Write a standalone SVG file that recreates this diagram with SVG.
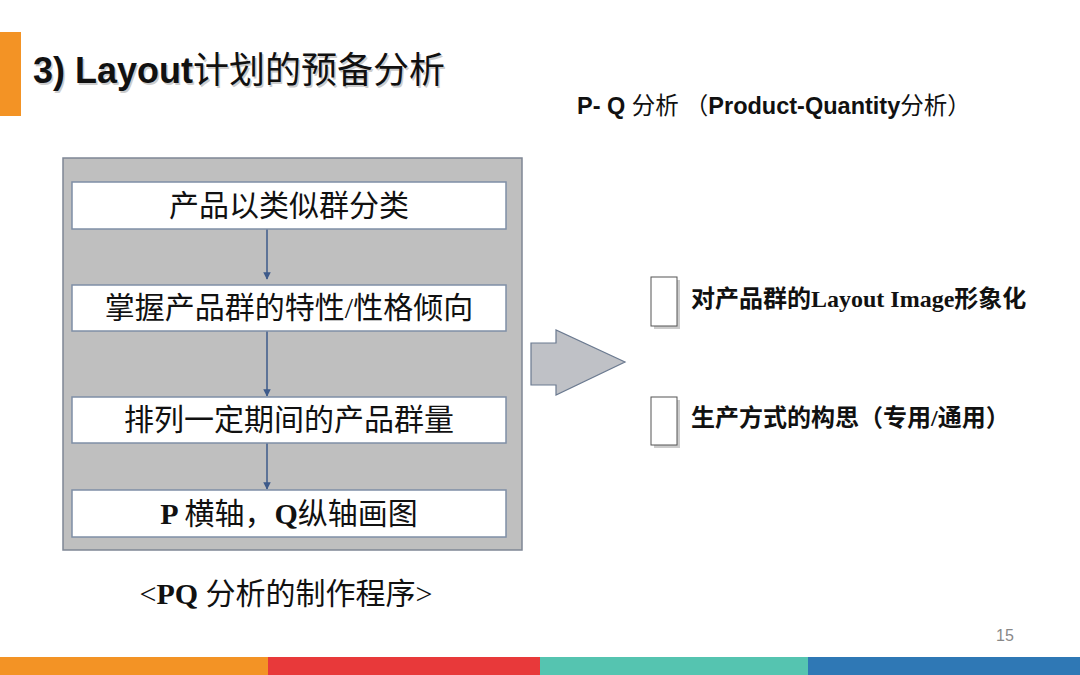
<svg xmlns="http://www.w3.org/2000/svg" width="1080" height="675" viewBox="0 0 1080 675">
<style>
.step{fill:#fff;stroke:#7f8fa6;stroke-width:1.5}
.st{font-family:"Liberation Serif","Noto Sans CJK SC",serif;font-size:30px;fill:#111;text-anchor:middle}
.conn{stroke:#3d5a8a;stroke-width:1.5;fill:none}
.rt{font-family:"Liberation Serif","Noto Sans CJK SC",serif;font-size:24px;font-weight:bold;fill:#111}
.chk{fill:#fff;stroke:#555;stroke-width:1}
.shd{fill:#ccc}
</style>
<defs>
<marker id="ah" viewBox="0 0 10 10" refX="9" refY="5" markerWidth="5" markerHeight="5" orient="auto">
<path d="M0,0 L10,5 L0,10 z" fill="#3d5a8a"/>
</marker>
</defs>
<rect width="1080" height="675" fill="#fff"/>
<rect x="0" y="32" width="21" height="84" fill="#f39325"/>
<text x="33" y="83" font-family="Liberation Sans,Noto Sans CJK SC,sans-serif" font-size="36" fill="#ccc" font-weight="bold" transform="translate(1.5,1.5)">3) Layout<tspan font-weight="normal">计划的预备分析</tspan></text>
<text x="33" y="83" font-family="Liberation Sans,Noto Sans CJK SC,sans-serif" font-size="36" fill="#111" font-weight="bold">3) Layout<tspan font-weight="normal">计划的预备分析</tspan></text>
<text x="577" y="114" font-family="Liberation Sans,Noto Sans CJK SC,sans-serif" font-size="23.5" fill="#111" font-weight="bold">P- Q <tspan font-weight="normal">分析</tspan><tspan font-weight="normal" dx="6">（</tspan>Product-Quantity<tspan font-weight="normal">分析）</tspan></text>

<g id="frame"><rect x="63" y="158" width="459" height="392" fill="#bfbfbf" stroke="#7f8795" stroke-width="1.5"/></g>
<g id="connectors">
<line class="conn" x1="267" y1="229" x2="267" y2="279" marker-end="url(#ah)"/>
<line class="conn" x1="267" y1="331" x2="267" y2="396" marker-end="url(#ah)"/>
<line class="conn" x1="267" y1="443" x2="267" y2="489" marker-end="url(#ah)"/>
</g>
<g id="step1"><rect class="step" x="72" y="182" width="434" height="47"/><text class="st" x="289" y="216">产品以类似群分类</text></g>
<g id="step2"><rect class="step" x="72" y="285" width="434" height="46"/><text class="st" x="289" y="318">掌握产品群的特性/性格倾向</text></g>
<g id="step3"><rect class="step" x="72" y="397" width="434" height="46"/><text class="st" x="289" y="430">排列一定期间的产品群量</text></g>
<g id="step4"><rect class="step" x="72" y="490" width="434" height="47"/><text class="st" x="289" y="524" font-weight="bold">P <tspan font-weight="normal">横轴，</tspan>Q<tspan font-weight="normal">纵轴画图</tspan></text></g>
<text class="st" x="286" y="604">&lt;<tspan font-weight="bold">PQ</tspan> 分析的制作程序&gt;</text>

<g id="bigarrow"><polygon points="531,343 556,343 556,330 625,362 556,395 556,385 531,385" fill="#bfc1c6" stroke="#6b7a90" stroke-width="1.2"/></g>

<g id="item1">
<rect class="shd" x="654" y="280" width="26" height="49"/>
<rect class="chk" x="651" y="277" width="26" height="49"/>
<text class="rt" x="691" y="307">对产品群的Layout Image形象化</text>
</g>
<g id="item2">
<rect class="shd" x="654" y="400" width="26" height="48"/>
<rect class="chk" x="651" y="397" width="26" height="48"/>
<text class="rt" x="691" y="426">生产方式的构思（专用/通用）</text>
</g>

<text x="1005" y="641" font-family="Liberation Sans,sans-serif" font-size="16" fill="#888" text-anchor="middle">15</text>
<rect x="0" y="657" width="268" height="18" fill="#f39325"/>
<rect x="268" y="657" width="272" height="18" fill="#e8393a"/>
<rect x="540" y="657" width="268" height="18" fill="#55c4b0"/>
<rect x="808" y="657" width="272" height="18" fill="#2f78b5"/>
</svg>
